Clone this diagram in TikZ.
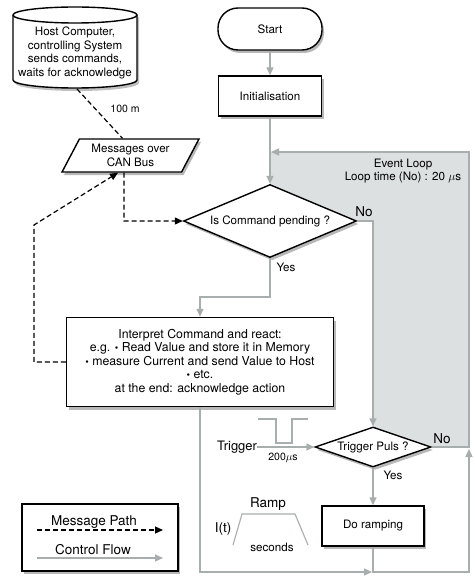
\documentclass[tikz,border=0pt]{standalone}
\usepackage{fontspec}
\setmainfont{TeX Gyre Heros}
\usetikzlibrary{arrows.meta,shapes.geometric,shadows,calc}
\definecolor{flow}{RGB}{168,174,174}
\definecolor{loopbg}{RGB}{221,224,224}
\newcommand{\blt}{{\fontsize{10}{10}\selectfont\textbullet}}
\begin{document}
\begin{tikzpicture}[x=1pt,y=-1pt,
  font=\fontsize{11.6}{13.5}\selectfont,
  shad/.style={drop shadow={shadow xshift=2pt,shadow yshift=-3pt,fill=black,opacity=0.28}},
  box/.style={draw=black,line width=1.4pt,fill=white,align=center,inner sep=0pt,shad},
  dia/.style={diamond,draw=black,line width=1.4pt,fill=white,inner sep=0pt,align=center,shad},
  ctrl/.style={draw=flow,line width=1.4pt,-{Triangle[length=8pt,width=7pt]}},
  msgp/.style={draw=black,line width=1.2pt,dash pattern=on 5pt off 3pt,-{Triangle[length=8pt,width=7pt]}},
  msgline/.style={draw=black,line width=1.2pt,dash pattern=on 5pt off 3pt},
  big/.style={font=\fontsize{13.5}{15}\selectfont},
  lbl/.style={inner sep=0pt,align=center}]
\useasboundingbox (0,0) rectangle (474,588);
\fill[white] (0,0) rectangle (474,588);

% event loop background
\fill[loopbg] (270,152) -- (469,152) -- (469,447) -- (373,447) -- (373,221) -- (270,221) -- cycle;
\node[lbl] (evloop) at (403,171) {Event Loop\\Loop time (No) : 20 $\mu$s};

% host computer cylinder
\fill[black,opacity=0.25] (15,18) -- (15,83) arc[start angle=180,end angle=360,x radius=62pt,y radius=8pt] -- (139,18) arc[start angle=0,end angle=180,x radius=62pt,y radius=8pt] -- cycle;
\path[draw=black,line width=1.4pt,fill=white] (13,15) -- (13,80) arc[start angle=180,end angle=360,x radius=62pt,y radius=8pt] -- (137,15) arc[start angle=0,end angle=180,x radius=62pt,y radius=8pt] -- cycle;
\draw[line width=1.4pt] (13,15) arc[start angle=180,end angle=360,x radius=62pt,y radius=8pt];
\node[lbl] (host) at (75,53) {Host Computer,\\controlling System\\sends commands,\\waits for acknowledge};
\coordinate (hostbot) at (77,89);

% nodes
\node[trapezium,trapezium left angle=59,trapezium right angle=121,trapezium stretches=true,
  minimum width=137pt,minimum height=33pt,box] (msg) at (130.5,155.5) {Messages over\\CAN Bus};
\node[box,rounded corners=20pt,minimum width=104pt,minimum height=42pt] (start) at (270,29) {Start};
\node[box,minimum width=103pt,minimum height=40pt] (init) at (270,96) {Initialisation};
\node[dia,aspect=2.37,minimum width=173pt,minimum height=73pt] (cmd) at (270,221) {Is Command pending ?};
\node[box,minimum width=267pt,minimum height=89pt,font=\fontsize{12.3}{13.5}\selectfont] (interp) at (200,362)
  {Interpret Command and react:\\e.g. \blt{} Read Value and store it in Memory\\\blt{} measure Current and send Value to Host\\\blt{} etc.\\at the end: acknowledge action};
\node[dia,aspect=2.9,minimum width=116pt,minimum height=40pt] (trig) at (373,447) {Trigger Puls ?};
\node[box,minimum width=102pt,minimum height=40pt] (ramp) at (373,526) {Do ramping};
\node[box,minimum width=156pt,minimum height=67pt] (legend) at (100,537.5) {};

% control flow
\draw[ctrl] (start) -- (init);
\draw[ctrl] (init) -- (cmd.north);
\coordinate (loopR) at (469,447);
\coordinate (loopTop) at (469,152);
\coordinate (loopIn) at (271,152);
\draw[ctrl] (trig.east) -- (loopR) -- (loopTop) -- (loopIn);
\coordinate (noR) at (373,221);
\draw[ctrl] (cmd.east) -- (noR) -- (trig.north);
\node[lbl,big] (no1) at (364,212) {No};
\coordinate (yesA) at (270,297);
\coordinate (yesB) at (200,297);
\draw[ctrl] (cmd.south) -- (yesA) -- (yesB) -- (interp.north);
\node[lbl] (yes1) at (286,267) {Yes};
\coordinate (botL) at (200,572);
\coordinate (botM) at (372,572);
\coordinate (botR) at (469,572);
\coordinate (upEnd) at (469,449);
\draw[ctrl] (interp.south) -- (botL) -- (botM);
\draw[ctrl] (ramp.south) -- (ramp.south |- botR) -- (botR) -- (upEnd);
\draw[ctrl] (trig.south) -- (ramp.north);
\node[lbl,big] (no2) at (442,439) {No};
\node[lbl] (yes2) at (393,475) {Yes};

% trigger input
\node[lbl,font=\fontsize{13}{15}\selectfont] (trigtxt) at (237,447) {Trigger};
\draw[ctrl] (trigtxt.east) -- (trig.west);
\draw[flow,line width=1.1pt] (258,419) -- (276,419) -- (276,443) -- (292,443) -- (292,419) -- (308,419);
\node[lbl,font=\fontsize{10.5}{12}\selectfont] (pw) at (283,458) {200$\mu$s};

% ramp sketch
\node[lbl,big] (ramptxt) at (268,504) {Ramp};
\draw[flow,line width=1.1pt] (233,545) -- (242,514) -- (295,514) -- (308,545);
\node[lbl,big] (it) at (223,529) {I(t)};
\node[lbl] (sec) at (272,547) {seconds};

% message paths
\draw[msgline] (hostbot) -- ([xshift=-8pt]msg.north);
\node[lbl,font=\fontsize{10.5}{12}\selectfont] (dist) at (125,109) {100 m};
\coordinate (m1) at (124,221);
\draw[msgp] ([xshift=-6.5pt]msg.south) -- (m1) -- (cmd.west);
\coordinate (d1) at (34,362);
\coordinate (d2) at (34,225);
\draw[msgp] (interp.west) -- (d1) -- (d2) -- ([xshift=-12.5pt]msg.south);

% legend
\node[lbl,big] (lmsg) at (94,522) {Message Path};
\node[lbl,big] (lctl) at (93,550) {Control Flow};
\coordinate (la1) at (37,530);
\coordinate (la2) at (163,530);
\coordinate (lb1) at (37,558);
\coordinate (lb2) at (163,558);
\draw[msgp] (la1) -- (la2);
\draw[ctrl,line width=1.1pt] (lb1) -- (lb2);
\end{tikzpicture}
\end{document}
